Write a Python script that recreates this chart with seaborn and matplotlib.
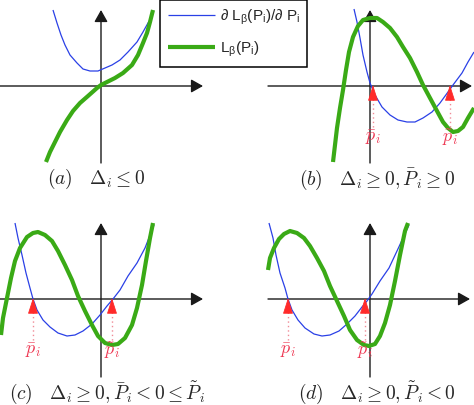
import matplotlib
matplotlib.use("Agg")
import matplotlib.pyplot as plt
import pandas as pd
import seaborn as sns

# curve points, in pixels relative to each panel's origin (y up)
blue_a_x = [-48, -44, -40, -36, -31, -24, -18, -11, -3, 4, 11, 19, 27, 36, 42, 47, 51]
blue_a_y = [76, 63, 51, 41, 31, 23, 17, 15, 15, 18, 21, 26, 34, 44, 54, 63, 69]
green_a_x = [-55, -51, -46, -41, -34, -28, -21, -13, -4, 0, 6, 14, 22, 31, 37, 42, 46, 49, 52]
green_a_y = [-76, -66, -56, -46, -34, -25, -17, -10, -2, 1, 4, 8, 13, 21, 31, 43, 53, 64, 76]

blue_b_x = [-16, -13, -10, -7, -3, 0, 5, 12, 20, 28, 37, 45, 53, 62, 70, 78, 83, 92, 98, 104]
blue_b_y = [77, 64, 48, 31, 14, 3, -9, -21, -29, -34, -36, -36, -32, -26, -17, -6, 1, 13, 24, 34]
green_b_x = [-37, -35, -33, -30, -27, -24, -21, -17, -12, -7, 0, 7, 13, 20, 27, 33, 40, 47,
             53, 60, 67, 73, 78, 83, 88, 93, 98, 104]
green_b_y = [-76, -59, -42, -22, -4, 16, 34, 49, 60, 66, 68, 68, 64, 58, 49, 39, 28, 14,
             1, -12, -25, -36, -42, -46, -45, -41, -32, -22]

blue_c_x = [-86, -83, -79, -75, -71, -68, -64, -58, -51, -43, -34, -26, -18, -9, -1, 6, 12,
            19, 27, 36, 44, 53]
blue_c_y = [76, 61, 44, 26, 11, 0, -11, -21, -28, -34, -37, -36, -32, -25, -16, -7, 0,
            9, 23, 36, 51, 74]
green_c_x = [-100, -98, -94, -90, -86, -81, -74, -68, -63, -56, -49, -43, -36, -29, -23, -16,
             -9, -3, 4, 11, 17, 24, 31, 36, 41, 45, 49, 52]
green_c_y = [-36, -19, 1, 21, 38, 51, 62, 66, 67, 64, 58, 48, 34, 19, 3, -12,
             -26, -37, -44, -46, -45, -39, -26, -9, 14, 38, 61, 76]

blue_d_x = [-101, -97, -94, -90, -85, -82, -78, -72, -65, -56, -48, -40, -31, -23, -15, -8,
            -3, 2, 10, 19, 27, 39]
blue_d_y = [76, 61, 44, 26, 11, 0, -11, -21, -29, -35, -37, -36, -32, -25, -17, -8,
            -2, 5, 18, 31, 48, 74]
green_d_x = [-102, -100, -96, -91, -86, -80, -73, -66, -60, -53, -46, -40, -33, -26, -20, -13,
             -6, -1, 5, 10, 15, 20, 25, 30, 35, 38]
green_d_y = [29, 41, 51, 60, 65, 68, 66, 61, 53, 41, 28, 13, -2, -17, -31, -41,
             -46, -47, -45, -37, -24, -6, 18, 44, 68, 76]

# zero crossings of the derivative (red markers)
roots_b = [3, 80]
roots_c = [-68, 11]
roots_d = [-82, -5]

captions = [
    r"$(a)\quad\Delta_i \leq 0$",
    r"$(b)\quad\Delta_i \geq 0, \bar{P}_i \geq 0$",
    r"$(c)\quad\Delta_i \geq 0, \bar{P}_i < 0 \leq \tilde{P}_i$",
    r"$(d)\quad\Delta_i \geq 0, \tilde{P}_i < 0$",
]
root_labels = [r"$\bar{p}_i$", r"$\tilde{p}_i$"]
legend_labels = [
    r"$\partial\ \mathrm{L_{\beta}(P_{i})/\partial\ P_{i}}$",
    r"$\mathrm{L_{\beta}(P_{i})}$",
]

BLUE = "#2a40e6"
GREEN = "#3aaa16"
RED = "#ff2a2a"
PINK = "#ee3a55"

sns.set_style("white")
plt.rcParams["font.family"] = ["Liberation Sans", "DejaVu Sans"]
plt.rcParams["mathtext.fontset"] = "custom"
plt.rcParams["mathtext.rm"] = "Liberation Sans"
plt.rcParams["mathtext.it"] = "Liberation Sans:italic"
plt.rcParams["mathtext.sf"] = "Liberation Sans"

W_PX, H_PX = 474, 405
fig = plt.figure(figsize=(4.74, 4.05), dpi=100)


def panel_axes(left, top, width, height, ox, oy):
    ax = fig.add_axes([left / W_PX, 1 - (top + height) / H_PX, width / W_PX, height / H_PX])
    ax.set_xlim(left - ox, left + width - ox)
    ax.set_ylim(oy - (top + height), oy - top)
    ax.axis("off")
    return ax


def draw_axes_arrows(ax, x0, x1, y0, y1):
    style = dict(arrowstyle="-|>,head_length=0.8,head_width=0.45", color="#1a1a1a",
                 lw=1.0, shrinkA=0, shrinkB=0, mutation_scale=9)
    ax.annotate("", xy=(x1, 0), xytext=(x0, 0), arrowprops=style, zorder=1)
    ax.annotate("", xy=(0, y1), xytext=(0, y0), arrowprops=style, zorder=1)


def draw_curve(ax, xs, ys, color, lw, label):
    df = pd.DataFrame({"x": xs, "y": ys})
    sns.lineplot(data=df, x="x", y="y", ax=ax, color=color, lw=lw, sort=False,
                 estimator=None, legend=False, label=label,
                 solid_joinstyle="round", solid_capstyle="butt")
    if ax.get_legend() is not None:
        ax.get_legend().remove()


def draw_roots(ax, roots):
    for rx, lab in zip(roots, root_labels):
        ax.plot([rx, rx], [-13, -41], color="#f08a96", lw=1.0, ls=(0, (1, 2.2)), zorder=4)
        ax.annotate("", xy=(rx, 1), xytext=(rx, -14),
                    arrowprops=dict(arrowstyle="-|>,head_length=1.0,head_width=0.32",
                                    color=RED, lw=0.6, shrinkA=0, shrinkB=0,
                                    mutation_scale=10), zorder=5)
        ax.text(rx, -52, lab, color=PINK, ha="center", va="center", fontsize=13,
                math_fontfamily="cm", zorder=5)


panels = [
    # left, top, width, height, origin x, origin y, axis extents, data, roots, caption pos
    (0, 0, 237, 200, 101, 86, (-101, 102, -77, 76),
     blue_a_x, blue_a_y, green_a_x, green_a_y, [], (-5, -93)),
    (237, 0, 237, 200, 370, 86, (-102, 102, -77, 76),
     blue_b_x, blue_b_y, green_b_x, green_b_y, roots_b, (7, -93)),
    (0, 200, 237, 205, 101, 299, (-101, 102, -78, 76),
     blue_c_x, blue_c_y, green_c_x, green_c_y, roots_c, (6, -94)),
    (237, 200, 237, 205, 370, 299, (-102, 100, -78, 76),
     blue_d_x, blue_d_y, green_d_x, green_d_y, roots_d, (7, -94)),
]

axes = []
for i, (l, t, w, h, ox, oy, ext, bx, by, gx, gy, roots, cap) in enumerate(panels):
    ax = panel_axes(l, t, w, h, ox, oy)
    draw_axes_arrows(ax, *ext)
    draw_curve(ax, bx, by, BLUE, 0.9, legend_labels[0])
    draw_curve(ax, gx, gy, GREEN, 3.0, legend_labels[1])
    draw_roots(ax, roots)
    ax.text(cap[0], cap[1], captions[i], ha="center", va="center", fontsize=14,
            math_fontfamily="cm")
    axes.append(ax)

handles = axes[0].get_lines()
leg = fig.legend(handles[:2], legend_labels, loc="upper left",
                 bbox_to_anchor=(160 / W_PX, 1.0), fontsize=11, frameon=True,
                 fancybox=False, edgecolor="black", framealpha=1, borderaxespad=0,
                 handlelength=3.1, handletextpad=0.3, labelspacing=0.85, borderpad=0.5)
leg.get_frame().set_linewidth(1.1)

fig.savefig("out.png", dpi=100)
